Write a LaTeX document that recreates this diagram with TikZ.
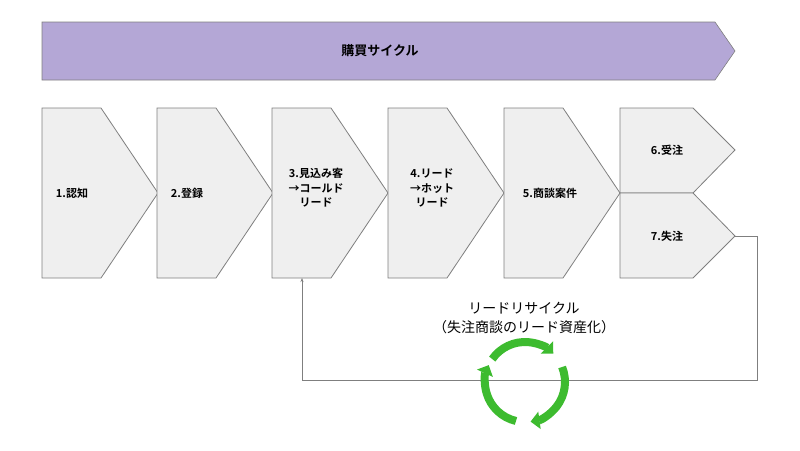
\documentclass[tikz,border=0pt]{standalone}
\usepackage{fontspec}
\setmainfont{Noto Sans CJK JP}[BoldFont={Noto Sans CJK JP Bold}]
\usetikzlibrary{arrows.meta}
\definecolor{banner}{HTML}{B4A7D6}
\definecolor{stepfill}{HTML}{EFEFEF}
\definecolor{stepline}{HTML}{7F7F7F}
\definecolor{recgreen}{HTML}{3DBB2F}
\tikzset{
  stepshape/.style={draw=stepline, fill=stepfill, line width=0.8pt},
  steptext/.style={font=\bfseries\fontsize{11}{14.5}\selectfont, align=center, inner sep=1pt},
  loopline/.style={draw=stepline, line width=0.8pt},
  recarrow/.style={recgreen, line width=8pt, -{Triangle[length=9pt,width=17pt]}}
}
\begin{document}
\begin{tikzpicture}[x=1pt,y=-1pt]
        \useasboundingbox (0,0) rectangle (800,450);
        % banner
        \draw [draw=stepline, fill=banner, line width=0.6pt] (42,22) -- (715,22) -- (735,51) -- (715,80) -- (42,80) -- cycle;
        \node [font=\bfseries\fontsize{13}{15}\selectfont] (cycle) at (380,51) {購買サイクル};
        % steps 1-5
        \foreach \l/\name in {42/s1, 157/s2, 272/s3, 388/s4, 504/s5} {
          \draw [stepshape] (\l,108) -- (\l+59,108) -- (\l+116,193) -- (\l+59,278) -- (\l,278) -- cycle;
        }
        % steps 6, 7
        \draw [stepshape] (620,108) -- (693,108) -- (735,150) -- (693,193) -- (620,193) -- cycle;
        \draw [stepshape] (620,193) -- (693,193) -- (735,236) -- (693,278) -- (620,278) -- cycle;
        \coordinate (s7-tip) at (735,236);
        \node [steptext] (t1) at (72,193) {1.認知};
        \node [steptext] (t2) at (187,193) {2.登録};
        \node [steptext] (t3) at (316,188) {3.見込み客\\→コールド\\リード};
        \node [steptext] (t4) at (432,188) {4.リード\\→ホット\\リード};
        \node [steptext] (t5) at (550,193) {5.商談案件};
        \node [steptext] (t6) at (667,150) {6.受注};
        \node [steptext] (t7) at (667,236) {7.失注};
        % recycle loop
        \coordinate (c1) at (757,236);
        \coordinate (c2) at (757,380);
        \coordinate (c3) at (302,380);
        \coordinate (s3-in) at (302,278);
        \draw [loopline, -{Stealth[length=4pt,width=3pt]}] (s7-tip) -- (c1) -- (c2) -- (c3) -- (s3-in);
        \node [font=\fontsize{14}{19}\selectfont, align=center] (recycle) at (524,318) {リードリサイクル\\（失注商談のリード資産化）};
        \begin{scope}[shift={(525,382)}, yscale=-1]
          \draw [recarrow] (145:40) arc (145:45:40);
          \draw [recarrow] (22:40) arc (22:-82:40);
          \draw [recarrow] (-103:40) arc (-103:-205:40);
        \end{scope}
    \end{tikzpicture}
\end{document}
